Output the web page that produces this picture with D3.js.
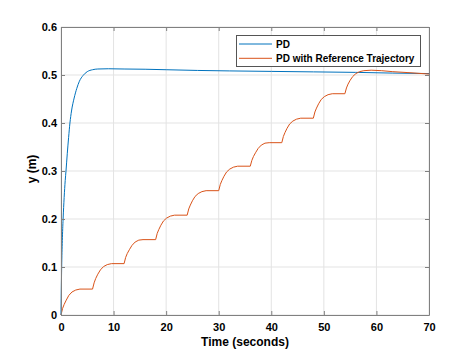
<!DOCTYPE html>
<html>
<head>
<meta charset="utf-8">
<script src="https://cdn.jsdelivr.net/npm/d3@7"></script>
<style>
  body { margin: 0; background: #fff; }
  text { font-family: "Liberation Sans", Arial, sans-serif; font-weight: bold; }
</style>
</head>
<body>
<div id="chart"></div>
<script>
// tick values
const xTicks = [0, 10, 20, 30, 40, 50, 60, 70];
const yTicks = [0, 0.1, 0.2, 0.3, 0.4, 0.5, 0.6];

// PD response
const pdTime = [0, 0.05, 0.13, 0.25, 0.4, 0.6, 0.8, 0.95, 1.2, 1.45, 1.7, 2.0, 2.5, 3.0, 3.5, 4.2, 5.0, 6.0, 7.0, 9, 12, 16, 20, 26, 32, 40, 48, 56, 63, 70];
const pdY = [0, 0.045, 0.1, 0.155, 0.2, 0.245, 0.28, 0.3, 0.337, 0.37, 0.4, 0.425, 0.452, 0.472, 0.487, 0.499, 0.507, 0.511, 0.5125, 0.513, 0.5125, 0.512, 0.511, 0.5095, 0.5085, 0.5075, 0.5065, 0.5055, 0.504, 0.503];

// PD with reference trajectory (staircase)
const refTime = [
  0, 0.3, 0.6, 1.0, 1.5, 2.1, 2.8, 3.6,
  6, 6.3, 6.6, 7, 7.5, 8.1, 8.8, 9.6,
  12, 12.3, 12.6, 13, 13.5, 14.1, 14.8, 15.6,
  18, 18.3, 18.6, 19, 19.5, 20.1, 20.8, 21.6,
  24, 24.3, 24.6, 25, 25.5, 26.1, 26.8, 27.6,
  30, 30.3, 30.6, 31, 31.5, 32.1, 32.8, 33.6,
  36, 36.3, 36.6, 37, 37.5, 38.1, 38.8, 39.6,
  42, 42.3, 42.6, 43, 43.5, 44.1, 44.8, 45.6,
  48, 48.3, 48.6, 49, 49.5, 50.1, 50.8, 51.6,
  54, 54.3, 54.6, 55, 55.5, 56.1, 56.8, 57.6, 59, 61, 63, 66, 70
];
const refY = [
  0, 0.0135, 0.022, 0.031, 0.041, 0.048, 0.052, 0.054,
  0.054, 0.067, 0.076, 0.085, 0.094, 0.101, 0.105, 0.107,
  0.107, 0.120, 0.128, 0.136, 0.145, 0.152, 0.156, 0.157,
  0.157, 0.170, 0.178, 0.187, 0.196, 0.202, 0.206, 0.208,
  0.208, 0.221, 0.229, 0.238, 0.247, 0.253, 0.257, 0.259,
  0.259, 0.272, 0.280, 0.289, 0.298, 0.304, 0.308, 0.310,
  0.310, 0.322, 0.330, 0.338, 0.347, 0.354, 0.358, 0.359,
  0.359, 0.372, 0.380, 0.389, 0.398, 0.404, 0.408, 0.410,
  0.410, 0.423, 0.431, 0.440, 0.449, 0.455, 0.459, 0.461,
  0.461, 0.473, 0.481, 0.489, 0.497, 0.503, 0.507, 0.509, 0.510, 0.509, 0.507, 0.505, 0.502
];

const seriesNames = ["PD", "PD with Reference Trajectory"];
const seriesColors = ["#0072BD", "#D95319"];

const MARGIN = { TOP: 27, BOTTOM: 39, LEFT: 61, RIGHT: 45 };
const WIDTH = 474 - MARGIN.LEFT - MARGIN.RIGHT;
const HEIGHT = 354 - MARGIN.TOP - MARGIN.BOTTOM;

const svg = d3.select("#chart").append("svg")
    .attr("width", 474)
    .attr("height", 354)
  .append("g")
    .attr("transform", `translate(${MARGIN.LEFT}, ${MARGIN.TOP})`);

const x = d3.scaleLinear().domain([0, 70]).range([0, WIDTH]);
const y = d3.scaleLinear().domain([0, 0.6]).range([HEIGHT, 0]);

// grid
svg.append("g").selectAll("line.vx").data(xTicks).enter().append("line")
    .attr("x1", d => x(d)).attr("x2", d => x(d))
    .attr("y1", 0).attr("y2", HEIGHT)
    .attr("stroke", "#e3e3e3").attr("stroke-width", 1);
svg.append("g").selectAll("line.hy").data(yTicks).enter().append("line")
    .attr("x1", 0).attr("x2", WIDTH)
    .attr("y1", d => y(d)).attr("y2", d => y(d))
    .attr("stroke", "#e3e3e3").attr("stroke-width", 1);

// lines
const line = d3.line().x(d => x(d[0])).y(d => y(d[1]));
const pdData = pdTime.map((t, i) => [t, pdY[i]]);
const refData = refTime.map((t, i) => [t, refY[i]]);

svg.append("path").datum(pdData)
    .attr("d", line.curve(d3.curveMonotoneX))
    .attr("fill", "none").attr("stroke", seriesColors[0]).attr("stroke-width", 1);
svg.append("path").datum(refData)
    .attr("d", line.curve(d3.curveLinear))
    .attr("fill", "none").attr("stroke", seriesColors[1]).attr("stroke-width", 1);

// axes (box with inward ticks)
const axisColor = "#808080";
function styleAxis(g) {
  g.selectAll(".domain").attr("stroke", axisColor);
  g.selectAll(".tick line").attr("stroke", axisColor);
  g.selectAll(".tick text").attr("fill", "#000").style("font-size", "11px").style("font-weight", "bold");
}

svg.append("g").attr("transform", `translate(0, ${HEIGHT})`)
    .call(d3.axisBottom(x).tickValues(xTicks).tickSize(-4).tickSizeOuter(0).tickPadding(8))
    .call(styleAxis);
svg.append("g")
    .call(d3.axisLeft(y).tickValues(yTicks).tickSize(-4).tickSizeOuter(0).tickPadding(4)
      .tickFormat(d => d === 0 ? "0" : d3.format(".1f")(d)))
    .call(styleAxis);
svg.append("g")
    .call(d3.axisTop(x).tickValues(xTicks).tickSize(-4).tickSizeOuter(0).tickFormat(""))
    .call(styleAxis);
svg.append("g").attr("transform", `translate(${WIDTH}, 0)`)
    .call(d3.axisRight(y).tickValues(yTicks).tickSize(-4).tickSizeOuter(0).tickFormat(""))
    .call(styleAxis);

// axis labels
svg.append("text")
    .attr("x", WIDTH / 2)
    .attr("y", HEIGHT + 31)
    .attr("text-anchor", "middle")
    .style("font-size", "12px")
    .text("Time (seconds)");

svg.append("text")
    .attr("transform", "rotate(-90)")
    .attr("x", -HEIGHT / 2 + 2)
    .attr("y", -25)
    .attr("text-anchor", "middle")
    .style("font-size", "12px")
    .text("y (m)");

// legend
const legend = svg.append("g").attr("transform", `translate(${236 - MARGIN.LEFT}, ${35 - MARGIN.TOP})`);
legend.append("rect")
    .attr("x", 0.5).attr("y", 0.5)
    .attr("width", 184).attr("height", 31)
    .attr("fill", "#fff").attr("stroke", "#555").attr("stroke-width", 1);
seriesNames.forEach((name, i) => {
  const cy = 9 + i * 14.3;
  legend.append("line")
    .attr("x1", 3).attr("x2", 36)
    .attr("y1", cy).attr("y2", cy)
    .attr("stroke", seriesColors[i]).attr("stroke-width", 1);
  legend.append("text")
    .attr("x", 40).attr("y", cy)
    .attr("dy", "0.35em")
    .style("font-size", "10px")
    .text(name);
});
</script>
</body>
</html>
